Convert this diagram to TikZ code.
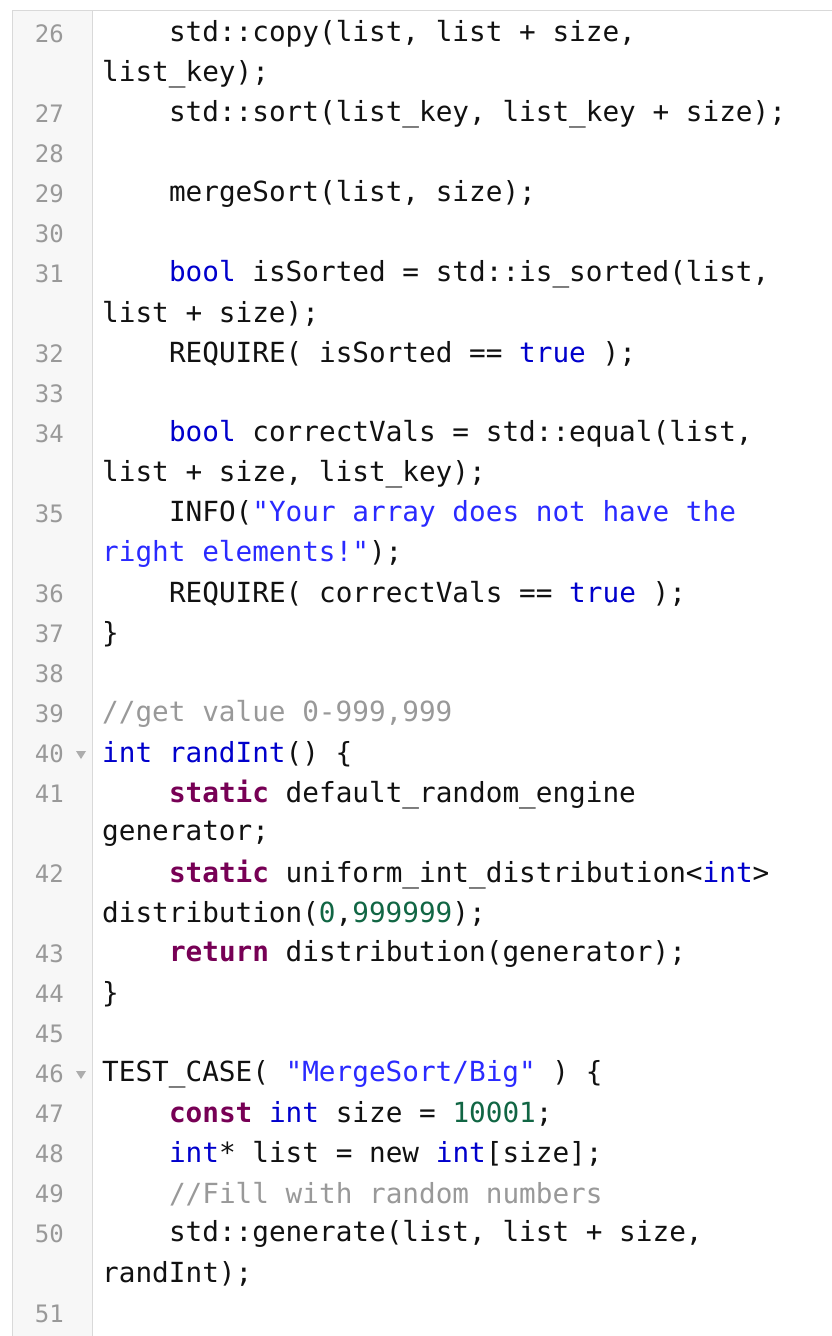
\documentclass[tikz,border=0pt]{standalone}
\usepackage{fontspec}
\newfontfamily\code{DejaVu Sans Mono}
\definecolor{kw}{HTML}{0000CC}
\definecolor{kp}{HTML}{770055}
\definecolor{st}{HTML}{2A2AFF}
\definecolor{nm}{HTML}{116644}
\definecolor{cm}{HTML}{999999}
\definecolor{ln}{HTML}{999999}
\definecolor{tx}{HTML}{111111}
\newcommand{\cK}[1]{\textcolor{kw}{#1}}
\newcommand{\cP}[1]{\textcolor{kp}{\bfseries #1}}
\newcommand{\cS}[1]{\textcolor{st}{#1}}
\newcommand{\cN}[1]{\textcolor{nm}{#1}}
\newcommand{\cC}[1]{\textcolor{cm}{#1}}
\begin{document}
\begin{tikzpicture}[x=1pt,y=-1pt,
  codeline/.style={anchor=west,inner sep=0pt,text=tx,font=\code\fontsize{27.7}{30}\selectfont},
  lnum/.style={anchor=east,inner sep=0pt,text=ln,font=\code\fontsize{24}{28}\selectfont},
  fold/.style={fill=ln!80,draw=none}]
\useasboundingbox (0,0) rectangle (832,1336);
\fill[white] (0,0) rectangle (832,1336);
\fill[black!3] (12,10) rectangle (92,1336);
\draw[black!15] (12,1336) -- (12,10) -- (832,10);
\draw[black!15] (92,10) -- (92,1336);
\def\Y#1{34+40*#1}
\def\ind{168.8}
\def\base{102}
\foreach \r/\n in {0/26,2/27,3/28,4/29,5/30,6/31,8/32,9/33,10/34,12/35,14/36,15/37,16/38,17/39,18/40,19/41,21/42,23/43,24/44,25/45,26/46,27/47,28/48,29/49,30/50,32/51}
  \node[lnum] (n\n) at (64,{\Y{\r}}) {\n};
\fill[fold] (76,{\Y{18}-3}) -- (86,{\Y{18}-3}) -- (81,{\Y{18}+5}) -- cycle;
\fill[fold] (76,{\Y{26}-3}) -- (86,{\Y{26}-3}) -- (81,{\Y{26}+5}) -- cycle;
\node[codeline] (c0) at (\ind,{\Y{0}}) {std::copy(list, list + size,};
\node[codeline] (c1) at (\base,{\Y{1}}) {list\_key);};
\node[codeline] (c2) at (\ind,{\Y{2}}) {std::sort(list\_key, list\_key + size);};
\node[codeline] (c4) at (\ind,{\Y{4}}) {mergeSort(list, size);};
\node[codeline] (c6) at (\ind,{\Y{6}}) {\cK{bool} isSorted = std::is\_sorted(list,};
\node[codeline] (c7) at (\base,{\Y{7}}) {list + size);};
\node[codeline] (c8) at (\ind,{\Y{8}}) {REQUIRE( isSorted == \cK{true} );};
\node[codeline] (c10) at (\ind,{\Y{10}}) {\cK{bool} correctVals = std::equal(list,};
\node[codeline] (c11) at (\base,{\Y{11}}) {list + size, list\_key);};
\node[codeline] (c12) at (\ind,{\Y{12}}) {INFO(\cS{"Your array does not have the}};
\node[codeline] (c13) at (\base,{\Y{13}}) {\cS{right elements!"});};
\node[codeline] (c14) at (\ind,{\Y{14}}) {REQUIRE( correctVals == \cK{true} );};
\node[codeline] (c15) at (\base,{\Y{15}}) {\}};
\node[codeline] (c17) at (\base,{\Y{17}}) {\cC{//get value 0-999,999}};
\node[codeline] (c18) at (\base,{\Y{18}}) {\cK{int} \cK{randInt}() \{};
\node[codeline] (c19) at (\ind,{\Y{19}}) {\cP{static} default\_random\_engine};
\node[codeline] (c20) at (\base,{\Y{20}}) {generator;};
\node[codeline] (c21) at (\ind,{\Y{21}}) {\cP{static} uniform\_int\_distribution<\cK{int}>};
\node[codeline] (c22) at (\base,{\Y{22}}) {distribution(\cN{0},\cN{999999});};
\node[codeline] (c23) at (\ind,{\Y{23}}) {\cP{return} distribution(generator);};
\node[codeline] (c24) at (\base,{\Y{24}}) {\}};
\node[codeline] (c26) at (\base,{\Y{26}}) {TEST\_CASE( \cS{"MergeSort/Big"} ) \{};
\node[codeline] (c27) at (\ind,{\Y{27}}) {\cP{const} \cK{int} size = \cN{10001};};
\node[codeline] (c28) at (\ind,{\Y{28}}) {\cK{int}* list = new \cK{int}[size];};
\node[codeline] (c29) at (\ind,{\Y{29}}) {\cC{//Fill with random numbers}};
\node[codeline] (c30) at (\ind,{\Y{30}}) {std::generate(list, list + size,};
\node[codeline] (c31) at (\base,{\Y{31}}) {randInt);};
\end{tikzpicture}
\end{document}
